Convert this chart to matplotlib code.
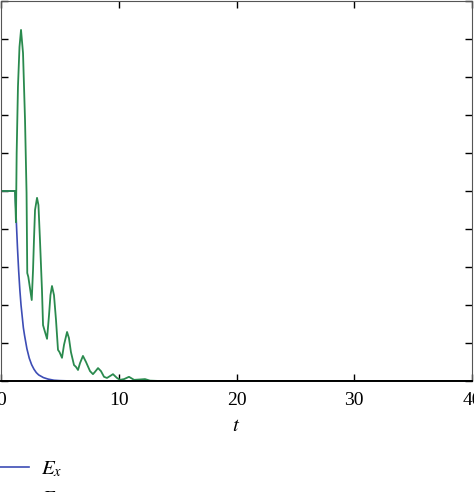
import numpy as np
import matplotlib
matplotlib.use("Agg")
import matplotlib.pyplot as plt

plt.rcParams['font.family'] = ['Liberation Serif', 'DejaVu Serif']
plt.rcParams['mathtext.fontset'] = 'stix'

## data (t, value)
t_ex = [0.0, 1.2, 1.3, 1.4, 1.5, 1.6, 1.7, 1.8, 1.9, 2.0, 2.2, 2.4, 2.6,
        2.8, 3.0, 3.2, 3.6, 4.0, 4.5, 5.0, 6.0, 40.0]
ex = [0.5, 0.5, 0.42, 0.35, 0.29, 0.24, 0.20, 0.17, 0.14, 0.12, 0.085,
      0.06, 0.043, 0.031, 0.022, 0.016, 0.009, 0.005, 0.002, 0.001, 0.0, 0.0]

t_ey = [0.0, 1.19, 1.27, 1.33, 1.44, 1.57, 1.70, 1.87, 2.04, 2.17, 2.23,
        2.32, 2.61, 2.72, 2.80, 2.89, 3.06, 3.18, 3.31, 3.48, 3.57, 3.69,
        3.91, 4.08, 4.20, 4.33, 4.50, 4.67, 4.84, 4.97, 5.18, 5.35, 5.61,
        5.77, 5.94, 6.20, 6.37, 6.54, 6.71, 6.96, 7.22, 7.56, 7.81, 7.98,
        8.24, 8.49, 8.75, 9.00, 9.26, 9.51, 9.85, 10.11, 10.45, 10.87,
        11.30, 11.80, 12.23, 12.65, 13.5, 40.0]
ey = [0.5, 0.5, 0.418, 0.600, 0.774, 0.879, 0.924, 0.863, 0.687, 0.495,
      0.284, 0.274, 0.213, 0.292, 0.371, 0.450, 0.482, 0.463, 0.371, 0.239,
      0.147, 0.134, 0.111, 0.174, 0.226, 0.250, 0.226, 0.161, 0.082, 0.076,
      0.061, 0.095, 0.129, 0.113, 0.076, 0.042, 0.037, 0.029, 0.047, 0.066,
      0.050, 0.026, 0.018, 0.024, 0.034, 0.026, 0.011, 0.008, 0.013, 0.018,
      0.008, 0.003, 0.005, 0.011, 0.003, 0.004, 0.005, 0.001, 0.0, 0.0]

x_ticks = [0, 10, 20, 30, 40]
y_ticks = np.arange(0, 1.01, 0.1)

W, H = 474, 492
fig = plt.figure(figsize=(W / 100, H / 100), dpi=100)
ax = fig.add_axes([1 / W, (H - 381) / H, 471 / W, 380 / H])

ax.plot(t_ex, ex, color='#3d4db5', lw=1.2, label=r'$E_x$')
ax.plot(t_ey, ey, color='#2a8a4e', lw=1.3, label=r'$E_y$')

ax.set_xlim(0, 40)
ax.set_ylim(0, 1)
ax.set_xticks(x_ticks)
ax.set_yticks(y_ticks)
# y labels lie outside the cropped picture
ax.tick_params(direction='in', top=True, right=True, length=5, width=1,
               labelsize=14, pad=8, labelleft=False)
for s in ax.spines.values():
    s.set_color('#555555')
ax.spines['bottom'].set_color('black')
ax.spines['bottom'].set_linewidth(1.4)
ax.set_xlabel(r'$t$', fontsize=15, labelpad=6)

ax.legend(loc='upper left', bbox_to_anchor=(-38 / W, (H - 460) / H),
          bbox_transform=fig.transFigure, frameon=False, fontsize=15,
          handlelength=3.2, handletextpad=0.6, borderpad=0, borderaxespad=0,
          labelspacing=0.45)

fig.savefig('out.png', dpi=100)
